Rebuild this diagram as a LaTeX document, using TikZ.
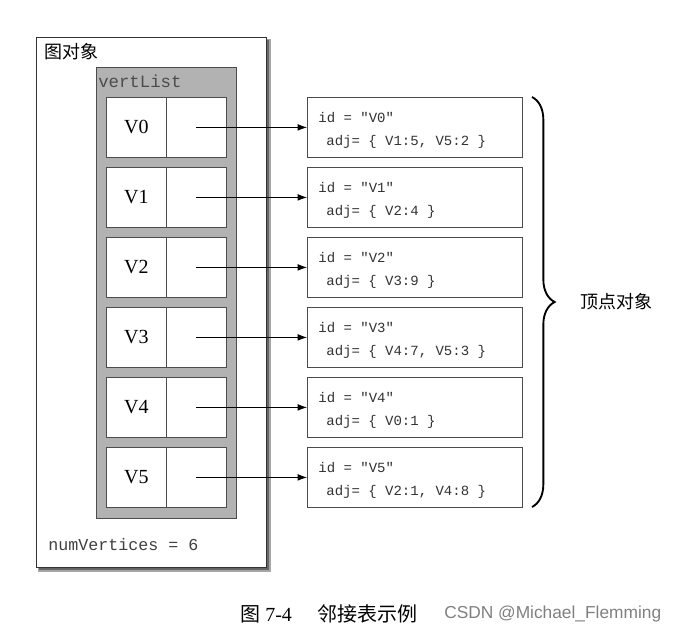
\documentclass[tikz,border=0pt]{standalone}
\usepackage{fontspec}
\setmainfont{Liberation Serif}
\newfontfamily\cjk{Noto Sans CJK SC}
\newfontfamily\mono{Liberation Mono}
\newfontfamily\wm{Liberation Sans}
\usetikzlibrary{decorations.pathreplacing,arrows.meta}
\begin{document}
\begin{tikzpicture}[x=0.75pt,y=-0.75pt,
  cell/.style={draw=black!70,fill=white,line width=0.6pt},
  info/.style={draw=black!70,fill=white,line width=0.6pt},
  arr/.style={-{Latex[length=7pt,width=5pt]},line width=0.6pt},
  itxt/.style={anchor=west,font=\mono\fontsize{10.5}{12}\selectfont,text=black!80}]
\useasboundingbox (0,0) rectangle (693,635);
\fill[black!35] (38,39) rectangle (271,572);
\fill[black!60] (39,40) rectangle (269,570);
\node[draw=black!80,fill=white,line width=0.8pt,minimum width=230*0.75pt,minimum height=530*0.75pt,anchor=north west,inner sep=0] (graph) at (36,37) {};
\node[anchor=west,font=\cjk\fontsize{13.5}{15}\selectfont] (gl) at (40,52) {图对象};
\node[draw=black!70,fill=black!30,minimum width=140*0.75pt,minimum height=451*0.75pt,anchor=north west,inner sep=0] (vl) at (96,67) {};
\node[anchor=west,font=\mono\fontsize{13}{15}\selectfont,text=black!70,inner sep=0] (vlt) at (98,81) {vertList};
\node[anchor=west,font=\mono\fontsize{12.5}{14}\selectfont,text=black!75,inner sep=0] (nv) at (48,545) {numVertices = 6};
\foreach \i/\a/\b in {0/{V1:5, V5:2 }/,1/{V2:4 }/,2/{V3:9 }/,3/{V4:7, V5:3 }/,4/{V0:1 }/,5/{V2:1, V4:8 }/}{
  \pgfmathsetmacro\yy{97+70*\i}
  \node[cell,minimum width=60*0.75pt,minimum height=60*0.75pt,anchor=north west,inner sep=0,font=\fontsize{15}{17}\selectfont] (c\i) at (106,\yy) {V\i};
  \node[cell,minimum width=60*0.75pt,minimum height=60*0.75pt,anchor=north west,inner sep=0] (p\i) at (166,\yy) {};
  \node[info,minimum width=215*0.75pt,minimum height=60*0.75pt,anchor=north west,inner sep=0] (b\i) at (307,\yy) {};
  \node[itxt] (id\i) at ([xshift=5pt,yshift=7.5pt]b\i.west) {id = "V\i"};
  \node[itxt] (adj\i) at ([xshift=11pt,yshift=-11pt]b\i.west) {adj= \{ \a\}};
  \coordinate (s\i) at (p\i.center);
  \draw[arr] (s\i) -- (b\i.west);
}
\draw[decorate,decoration={brace,amplitude=17pt},line width=1.4pt] (532,97) -- (532,507) coordinate[midway] (bm);
\node[anchor=west,font=\cjk\fontsize{13.5}{15}\selectfont] (vo) at (576,302) {顶点对象};
\node[anchor=west,font=\fontsize{15}{17}\selectfont,inner sep=0] (cap) at (240,614) {{\cjk 图} 7-4\hspace{1.3em}{\cjk 邻接表示例}};
\node[anchor=west,font=\wm\fontsize{13}{15}\selectfont,text=black!50,inner sep=0] (wm) at (444,614) {CSDN @Michael\_Flemming};
\end{tikzpicture}
\end{document}
